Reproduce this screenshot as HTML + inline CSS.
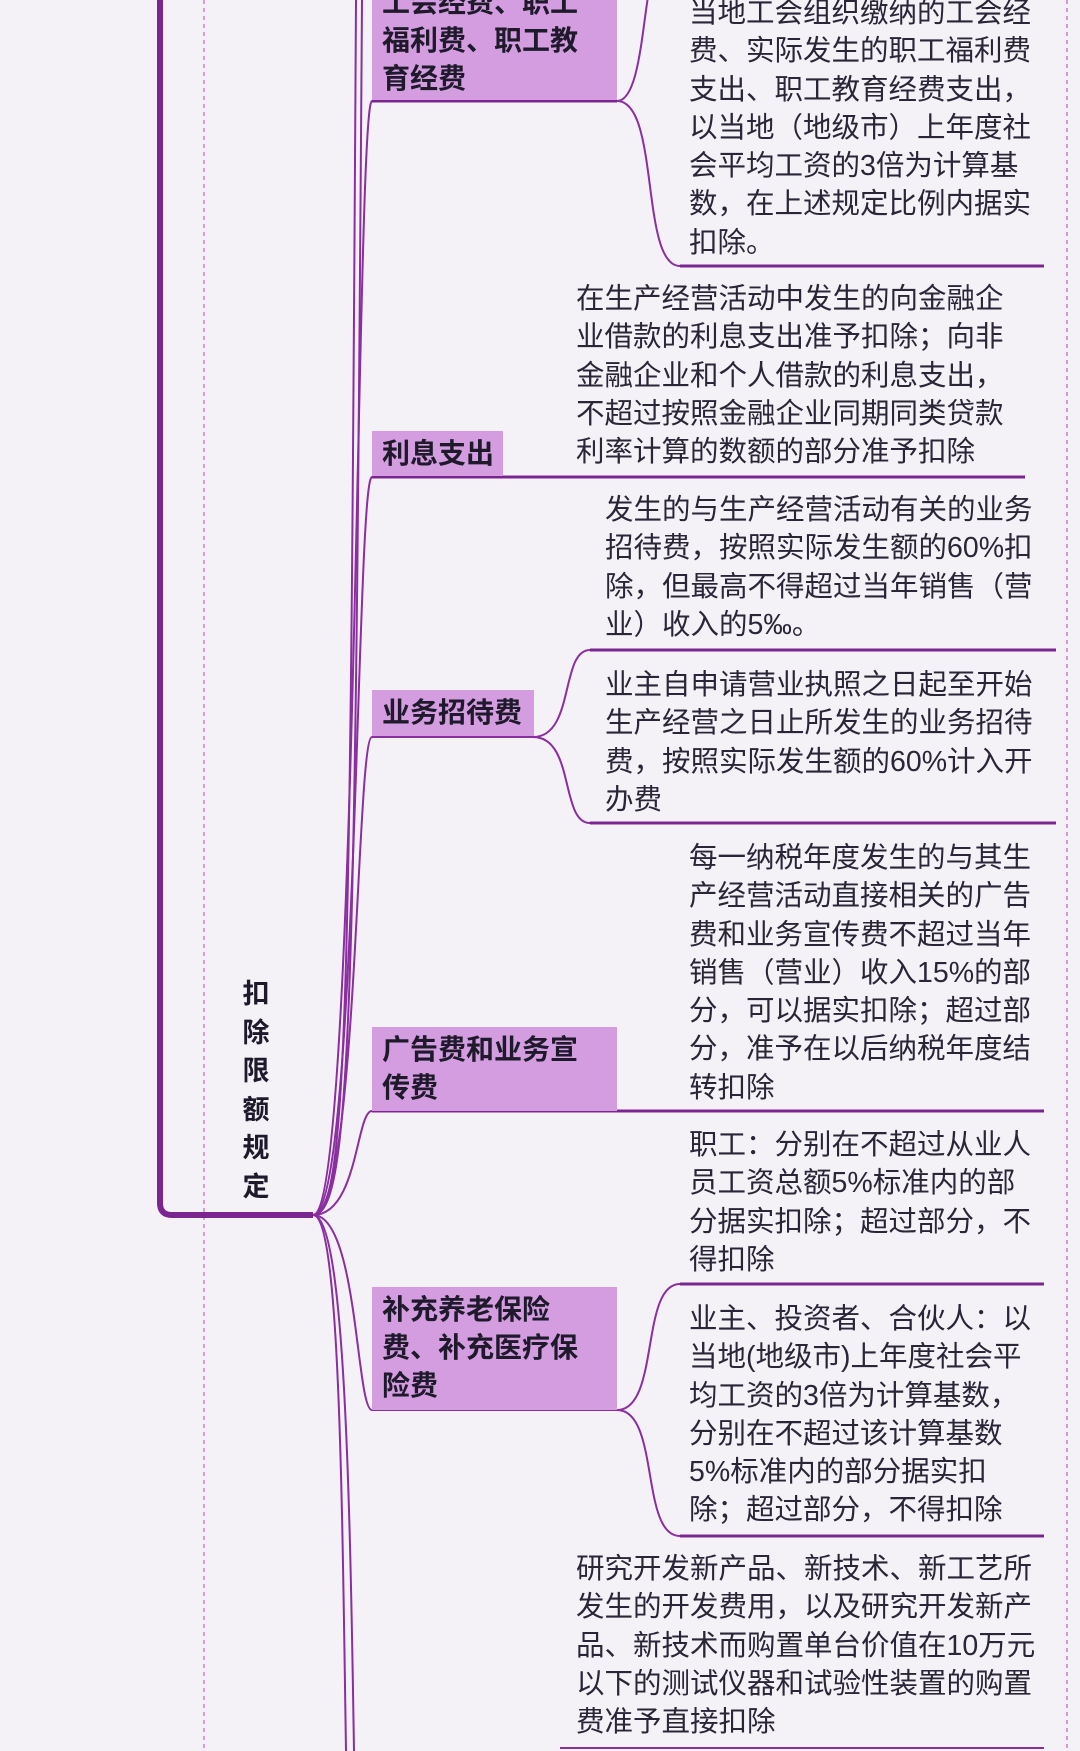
<!DOCTYPE html>
<html><head><meta charset="utf-8"><style>
html,body{margin:0;padding:0;overflow:hidden;width:1080px;height:1751px}
body{background:#f4f2f7;position:relative;font-family:"Liberation Sans","Noto Sans CJK SC",sans-serif}
.n{position:absolute;background:#d49de0;color:#1e1a2c;font-weight:bold;font-size:28px;line-height:38px;padding:0 0 0 10px;box-sizing:border-box;white-space:nowrap;overflow:hidden}
.t{position:absolute;color:#2a2638;font-size:28.5px;line-height:38.3px;white-space:nowrap}
.v{position:absolute;left:241px;top:975px;width:30px;font-weight:bold;font-size:27px;line-height:38.5px;color:#1e1a2c;text-align:center}
svg{position:absolute;left:0;top:0}
</style></head><body>
<svg width="1080" height="1751" viewBox="0 0 1080 1751">
<line x1="204" y1="0" x2="204" y2="1751" stroke="#c66ad8" stroke-width="1.3" stroke-dasharray="4,4"/>
<line x1="1067" y1="0" x2="1067" y2="1751" stroke="#c66ad8" stroke-width="1.3" stroke-dasharray="4,4"/>
<path d="M160 0 V1203 Q160 1215 172 1215 H313" fill="none" stroke="#7b2590" stroke-width="6"/>
<g fill="none" stroke="#8a2ea0" stroke-width="2">
<path d="M313 1215 C352 1215 355 1000 362 0"/>
<path d="M313 1215 C348 1215 350 1000 356 0"/>
<path d="M313 1215 C358 1215 356 100 372 101 H617"/>
<path d="M313 1215 C358 1215 356 477 372 477 H1025"/>
<path d="M313 1215 C358 1215 356 737 372 737 H533"/>
<path d="M313 1215 C358 1215 356 1111 372 1111 H1044"/>
<path d="M313 1215 C358 1215 356 1410 372 1410 H617"/>
<path d="M313 1215 C345 1215 350 1500 354 1751"/>
<path d="M313 1215 C340 1215 342 1500 346 1751"/>
<path d="M617 101 C650 101 640 -60 670 -60"/>
<path d="M617 101 C660 101 640 266 680 266 H1044"/>
<path d="M533 737 C575 737 560 650 590 650 H1056"/>
<path d="M533 737 C575 737 560 823 590 823 H1056"/>
<path d="M617 1410 C660 1410 640 1284 680 1284 H1044"/>
<path d="M617 1410 C660 1410 640 1536 680 1536 H1044"/>
<path d="M560 1748 H1044"/>
</g>
<g stroke="#7b2590" stroke-width="3">
<line x1="372" y1="101" x2="617" y2="101"/><line x1="680" y1="266" x2="1044" y2="266"/>
<line x1="372" y1="477" x2="1025" y2="477"/><line x1="590" y1="650" x2="1056" y2="650"/>
<line x1="590" y1="823" x2="1056" y2="823"/><line x1="372" y1="1111" x2="1044" y2="1111"/>
<line x1="680" y1="1284" x2="1044" y2="1284"/><line x1="680" y1="1536" x2="1044" y2="1536"/>
</g>
</svg>
<div class="n" style="left:372px;top:0;width:245px;height:100px;padding-top:0"><div style="margin-top:-16px">工会经费、职工<br>福利费、职工教<br>育经费</div></div>
<div class="n" style="left:372px;top:431px;width:131px;height:45px;padding-top:4px">利息支出</div>
<div class="n" style="left:372px;top:690px;width:162px;height:46px;padding-top:4px">业务招待费</div>
<div class="n" style="left:372px;top:1027px;width:245px;height:84px;padding-top:4px">广告费和业务宣<br>传费</div>
<div class="n" style="left:372px;top:1287px;width:245px;height:123px;padding-top:4px">补充养老保险<br>费、补充医疗保<br>险费</div>
<div class="v">扣<br>除<br>限<br>额<br>规<br>定</div>
<div style="position:absolute;left:0;top:0;width:1080px;height:260px;overflow:hidden"><div class="t" style="left:689px;top:-6px">当地工会组织缴纳的工会经<br>费、实际发生的职工福利费<br>支出、职工教育经费支出，<br>以当地（地级市）上年度社<br>会平均工资的3倍为计算基<br>数，在上述规定比例内据实<br>扣除。</div></div>
<div class="t" style="left:576px;top:280px">在生产经营活动中发生的向金融企<br>业借款的利息支出准予扣除；向非<br>金融企业和个人借款的利息支出，<br>不超过按照金融企业同期同类贷款<br>利率计算的数额的部分准予扣除</div>
<div class="t" style="left:605px;top:491px">发生的与生产经营活动有关的业务<br>招待费，按照实际发生额的60%扣<br>除，但最高不得超过当年销售（营<br>业）收入的5‰。</div>
<div class="t" style="left:605px;top:666px">业主自申请营业执照之日起至开始<br>生产经营之日止所发生的业务招待<br>费，按照实际发生额的60%计入开<br>办费</div>
<div class="t" style="left:689px;top:839px">每一纳税年度发生的与其生<br>产经营活动直接相关的广告<br>费和业务宣传费不超过当年<br>销售（营业）收入15%的部<br>分，可以据实扣除；超过部<br>分，准予在以后纳税年度结<br>转扣除</div>
<div class="t" style="left:689px;top:1126px">职工：分别在不超过从业人<br>员工资总额5%标准内的部<br>分据实扣除；超过部分，不<br>得扣除</div>
<div class="t" style="left:689px;top:1300px">业主、投资者、合伙人：以<br>当地(地级市)上年度社会平<br>均工资的3倍为计算基数，<br>分别在不超过该计算基数<br>5%标准内的部分据实扣<br>除；超过部分，不得扣除</div>
<div class="t" style="left:576px;top:1550px">研究开发新产品、新技术、新工艺所<br>发生的开发费用，以及研究开发新产<br>品、新技术而购置单台价值在10万元<br>以下的测试仪器和试验性装置的购置<br>费准予直接扣除</div>
</body></html>
